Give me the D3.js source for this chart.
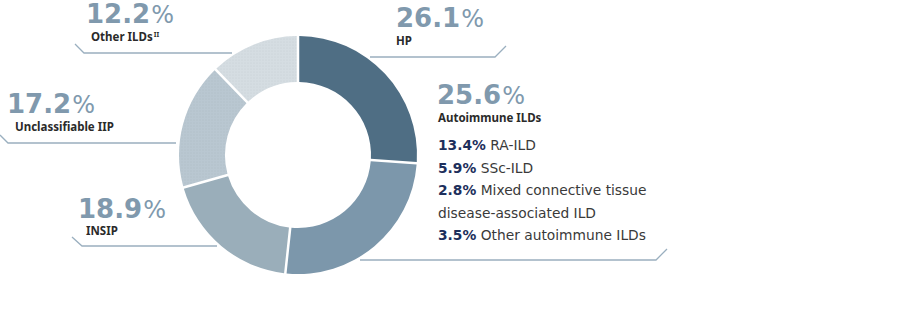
<!DOCTYPE html>
<html>
<head>
<meta charset="utf-8">
<script src="https://cdn.jsdelivr.net/npm/d3@7"></script>
<style>
  html, body { margin: 0; padding: 0; background: #fff; }
  svg { display: block; }
</style>
</head>
<body>
<svg id="chart" width="904" height="330"></svg>
<script>
// ILD diagnosis breakdown (percent of patients)
const categories = ["HP", "Autoimmune ILDs", "INSIP", "Unclassifiable IIP", "Other ILDs"];
const shares = [26.1, 25.6, 18.9, 17.2, 12.2];
const sliceColors = ["#4f6e84", "#7c97ab", "#9aaeba", "#b9c7d1", "#d5dde2"];
const textured = [false, false, false, true, true];

// Autoimmune ILD sub-types
const subValues = [13.4, 5.9, 2.8, 3.5];
const subLabels = [["RA-ILD"], ["SSc-ILD"], ["Mixed connective tissue", "disease-associated ILD"], ["Other autoimmune ILDs"]];

const svg = d3.select("#chart");
const cx = 298, cy = 155, rOuter = 119, rInner = 73;

// dotted fill for the lighter slices
const defs = svg.append("defs");
textured.forEach((t, i) => {
  if (!t) return;
  const p = defs.append("pattern")
    .attr("id", "dots" + i).attr("patternUnits", "userSpaceOnUse")
    .attr("width", 3).attr("height", 3);
  p.append("rect").attr("width", 3).attr("height", 3).attr("fill", sliceColors[i]);
  p.append("circle").attr("cx", 1).attr("cy", 1).attr("r", 0.45)
    .attr("fill", d3.color(sliceColors[i]).darker(0.35));
});

const pie = d3.pie().sort(null).value(d => d);
const arc = d3.arc().innerRadius(rInner).outerRadius(rOuter).padAngle(0.018);

svg.append("g").attr("transform", `translate(${cx},${cy})`)
  .selectAll("path").data(pie(shares)).join("path")
  .attr("d", arc)
  .attr("fill", (d, i) => textured[i] ? `url(#dots${i})` : sliceColors[i]);

// leader lines and label anchors for each category
const layout = [
  { x: 396, y: 27, lx: 396, ly: 45, line: [[370, 57], [495, 57], [506, 46]] },
  { x: 437, y: 104, lx: 438, ly: 122, line: [[360, 260], [656, 260], [667, 249]] },
  { x: 78, y: 218, lx: 86, ly: 235, line: [[72, 237], [82, 246], [217, 246]] },
  { x: 7, y: 113, lx: 15, ly: 131, line: [[0, 135], [8, 143], [176, 143]] },
  { x: 86, y: 23, lx: 91, ly: 41, line: [[75, 44], [84, 53], [232, 53]] }
];

const lineGen = d3.line();
const labels = svg.append("g");
categories.forEach((c, i) => {
  const L = layout[i];
  labels.append("path").attr("d", lineGen(L.line))
    .attr("fill", "none").attr("stroke", "#9aafbf").attr("stroke-width", 1.3);
  const num = labels.append("text").attr("x", L.x).attr("y", L.y)
    .attr("font-family", "'DejaVu Sans', sans-serif").attr("fill", "#8099ad");
  num.append("tspan").attr("font-size", 26).attr("font-weight", 700).text(d3.format(".1f")(shares[i]));
  num.append("tspan").attr("font-size", 24).attr("font-weight", 400).attr("dx", 1).text("%");
  const lab = labels.append("text").attr("x", L.lx).attr("y", L.ly)
    .attr("font-family", "'Noto Sans', 'DejaVu Sans', sans-serif").attr("font-size", 11.5)
    .attr("font-weight", 700).attr("fill", "#2a2a2a").text(c);
  if (c === "Other ILDs") {
    lab.append("tspan").attr("font-size", 7).attr("dy", -4).attr("dx", 1).text("II");
  }
});

// sub-type list beneath the autoimmune label
const sub = svg.append("g").attr("font-family", "'DejaVu Sans', sans-serif").attr("font-size", 13.8);
let row = 0;
const rowH = 22.5, subX = 438, subY = 150;
subValues.forEach((v, i) => {
  subLabels[i].forEach((line, j) => {
    const t = sub.append("text").attr("x", subX).attr("y", subY + row * rowH).attr("fill", "#3a3a3a");
    if (j === 0) {
      t.append("tspan").attr("font-weight", 700).attr("fill", "#1d2f5c").text(d3.format(".1f")(v) + "%");
      t.append("tspan").text(" " + line);
    } else {
      t.text(line);
    }
    row++;
  });
});
</script>
</body>
</html>
